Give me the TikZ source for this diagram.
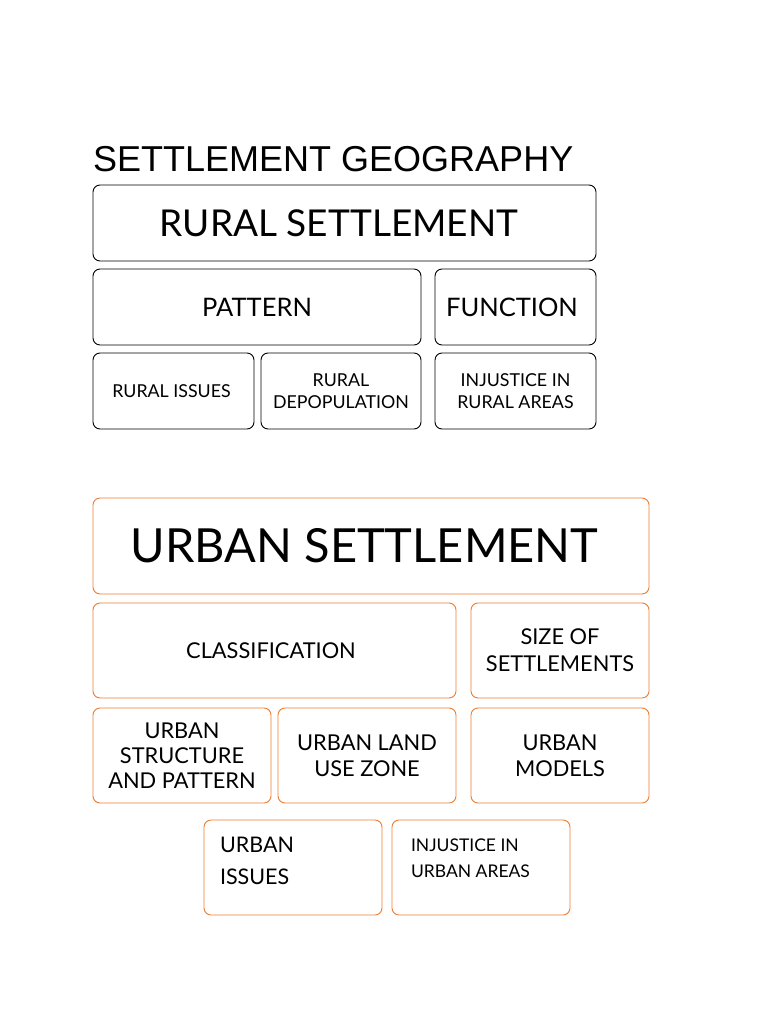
\documentclass[tikz,border=0pt]{standalone}
\usepackage{fontspec}
\setmainfont{Lato}
\newfontfamily\titlefont{Liberation Sans}
\usepackage{xcolor}
\usepackage{tikz}

\definecolor{urbanorange}{HTML}{ED7D31}

\tikzset{
    box/.style={draw, rounded corners=7pt, line width=0.9pt, align=center, inner sep=0pt},
    rbox/.style={box, draw=black, minimum height=76},
    ubox/.style={box, draw=urbanorange, minimum height=95},
}

\newcommand{\setsize}[2]{\fontsize{#1}{#2}\selectfont}
\newcommand{\topbox}[3]{\parbox[c][#1][t]{#2}{\raggedright #3}}

\begin{document}
\begin{tikzpicture}[x=1pt, y=-1pt]
    \useasboundingbox[fill=white] (0,0) rectangle (768,1024);

    % title
    \node[anchor=base west, inner sep=0pt, font=\titlefont\setsize{36}{42}] (title) at (93,172) {SETTLEMENT GEOGRAPHY};

    % rural settlement
    \node[rbox, minimum width=503, font=\setsize{37}{44}] (rural) at (344.5,223) {RURAL SETTLEMENT\hspace*{11pt}};

    \node[rbox, minimum width=328, font=\setsize{25.5}{30}] (pattern) at (257,307) {PATTERN};
    \node[rbox, minimum width=161, font=\setsize{25.5}{30}] (function) at (515.5,307) {FUNCTION\hspace*{7pt}};

    \node[rbox, minimum width=161, font=\setsize{17.8}{22}] (ruralissues) at (173.5,391) {RURAL ISSUES\hspace*{4pt}};
    \node[rbox, minimum width=160, font=\setsize{17.8}{22}] (depopulation) at (341,391) {RURAL\\DEPOPULATION};
    \node[rbox, minimum width=161, font=\setsize{17.8}{22}] (ruralinjustice) at (515.5,391) {INJUSTICE IN\\RURAL AREAS};

    % urban settlement
    \node[ubox, minimum width=556, minimum height=96, font=\setsize{47}{56}] (urban) at (371,546) {URBAN SETTLEMENT\hspace*{13pt}};

    \node[ubox, minimum width=363, font=\setsize{21.8}{26}] (classification) at (274.5,650.5) {CLASSIFICATION\hspace*{7pt}};
    \node[ubox, minimum width=178, font=\setsize{21.8}{27}] (settlementsize) at (560,650.5) {SIZE OF\\SETTLEMENTS};

    \node[ubox, minimum width=178, font=\setsize{21.8}{25}] (structure) at (182,755.5) {URBAN\\STRUCTURE\\AND PATTERN};
    \node[ubox, minimum width=178, font=\setsize{21.8}{26}] (landuse) at (367,755.5) {URBAN LAND\\USE ZONE};
    \node[ubox, minimum width=178, font=\setsize{21.8}{26}] (models) at (560,755.5) {URBAN\\MODELS};

    \node[ubox, minimum width=178] (urbanissues) at (293,867.5)
        {\topbox{95pt}{146pt}{\vspace*{17pt}\setsize{21.5}{32}URBAN\\ISSUES}};
    \node[ubox, minimum width=178] (urbaninjustice) at (481,867.5)
        {\topbox{95pt}{140pt}{\vspace*{19pt}\setsize{17.5}{26}INJUSTICE IN\\URBAN AREAS}};

\end{tikzpicture}
\end{document}
